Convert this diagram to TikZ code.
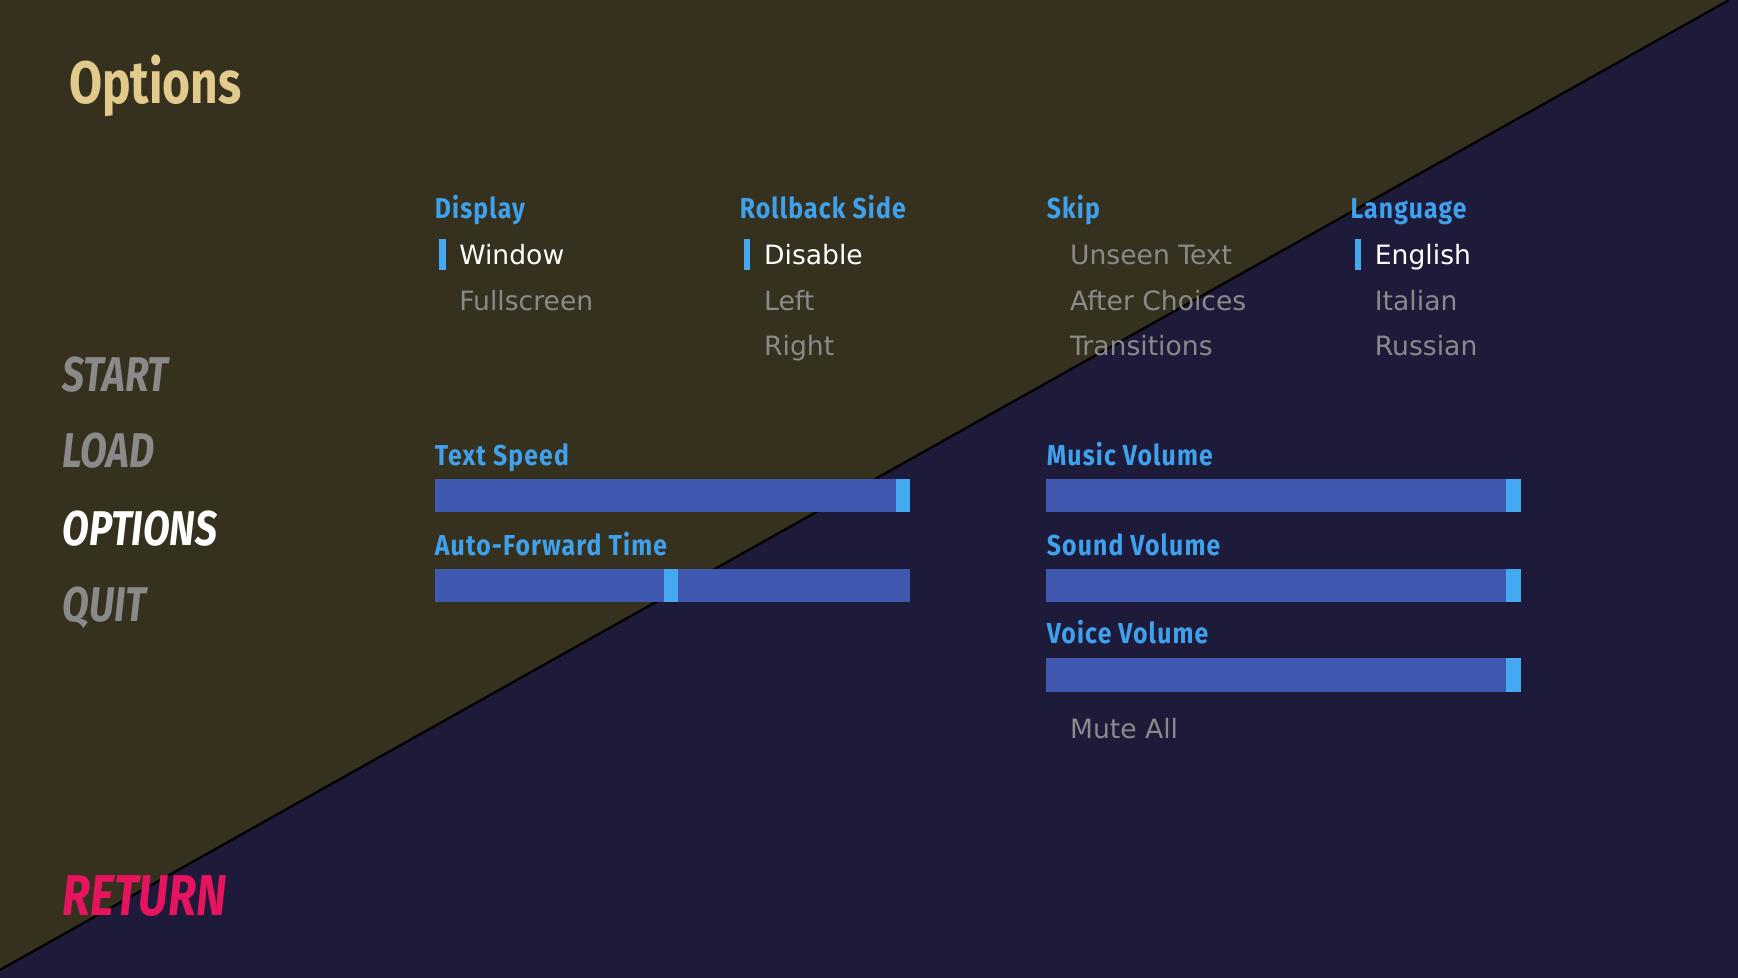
\documentclass[tikz,border=0pt]{standalone}
\usepackage{fontspec}
\setmainfont{DejaVu Sans}
\newfontfamily\headfont[FakeStretch=0.86,LetterSpace=4]{Fira Sans}
\newfontfamily\menufont[FakeStretch=0.8]{Fira Sans}
\definecolor{olive}{HTML}{36311F}
\definecolor{navy}{HTML}{1E1B3A}
\definecolor{hblue}{HTML}{3FA0EC}
\definecolor{barc}{HTML}{4059B0}
\definecolor{thumbc}{HTML}{45A9F2}
\definecolor{greyt}{HTML}{8A8A8A}
\definecolor{tan}{HTML}{E2C98C}
\definecolor{ret}{HTML}{E6135E}
\begin{document}
\begin{tikzpicture}[x=0.5pt,y=-0.5pt,
 head/.style={anchor=base west,inner sep=0,text=hblue,font=\headfont\bfseries\fontsize{13}{15}\selectfont},
 opt/.style={anchor=base west,inner sep=0,text=greyt,font=\fontsize{12}{14}\selectfont},
 sel/.style={opt,text=white},
 menu/.style={anchor=base west,inner sep=0,text=greyt,font=\menufont\bfseries\itshape\fontsize{22}{26}\selectfont},
 bar/.style={fill=barc,draw=none},
 thumb/.style={fill=thumbc,draw=none}]
\useasboundingbox (0,0) rectangle (1568,882);
\fill[navy] (0,0) rectangle (1568,882);
\fill[olive] (0,0) -- (1560,0) -- (0,875) -- cycle;
\draw[black,line width=1pt] (1560,0) -- (0,875);
\node[anchor=base west,inner sep=0,text=tan,font=\menufont\bfseries\fontsize{27}{30}\selectfont] (title) at (62,93) {Options};
\node[menu] (start) at (56,353) {START};
\node[menu] (load) at (56,422) {LOAD};
\node[menu,text=white] (options) at (56,492) {OPTIONS};
\node[menu] (quit) at (56,561) {QUIT};
\node[menu,text=ret,font=\menufont\bfseries\itshape\fontsize{26}{30}\selectfont] (return) at (56,826) {RETURN};
% columns
\node[head] (h1) at (392,197) {Display};
\fill[thumbc] (396,216) rectangle (402,244);
\node[sel] (w) at (414,239) {Window};
\node[opt] (fs) at (414,280) {Fullscreen};
\node[head] (h2) at (667,197) {Rollback Side};
\fill[thumbc] (671,216) rectangle (677,244);
\node[sel] (d) at (689,239) {Disable};
\node[opt] (l) at (689,280) {Left};
\node[opt] (r) at (689,321) {Right};
\node[head] (h3) at (944,197) {Skip};
\node[opt] (u) at (965,239) {Unseen Text};
\node[opt] (a) at (965,280) {After Choices};
\node[opt] (t) at (965,321) {Transitions};
\node[head] (h4) at (1218,197) {Language};
\fill[thumbc] (1222,216) rectangle (1228,244);
\node[sel] (e) at (1240,239) {English};
\node[opt] (i) at (1240,280) {Italian};
\node[opt] (ru) at (1240,321) {Russian};
% sliders
\node[head] (ts) at (392,420) {Text Speed};
\fill[bar] (392,432) rectangle (821,462);
\fill[thumb] (808,432) rectangle (821,462);
\node[head] (af) at (392,501) {Auto-Forward Time};
\fill[bar] (392,513) rectangle (821,543);
\fill[thumb] (599,513) rectangle (612,543);
\node[head] (mv) at (944,420) {Music Volume};
\fill[bar] (944,432) rectangle (1372,462);
\fill[thumb] (1359,432) rectangle (1372,462);
\node[head] (sv) at (944,501) {Sound Volume};
\fill[bar] (944,513) rectangle (1372,543);
\fill[thumb] (1359,513) rectangle (1372,543);
\node[head] (vv) at (944,581) {Voice Volume};
\fill[bar] (944,594) rectangle (1372,624);
\fill[thumb] (1359,594) rectangle (1372,624);
\node[opt] (mute) at (965,666) {Mute All};
\end{tikzpicture}
\end{document}
